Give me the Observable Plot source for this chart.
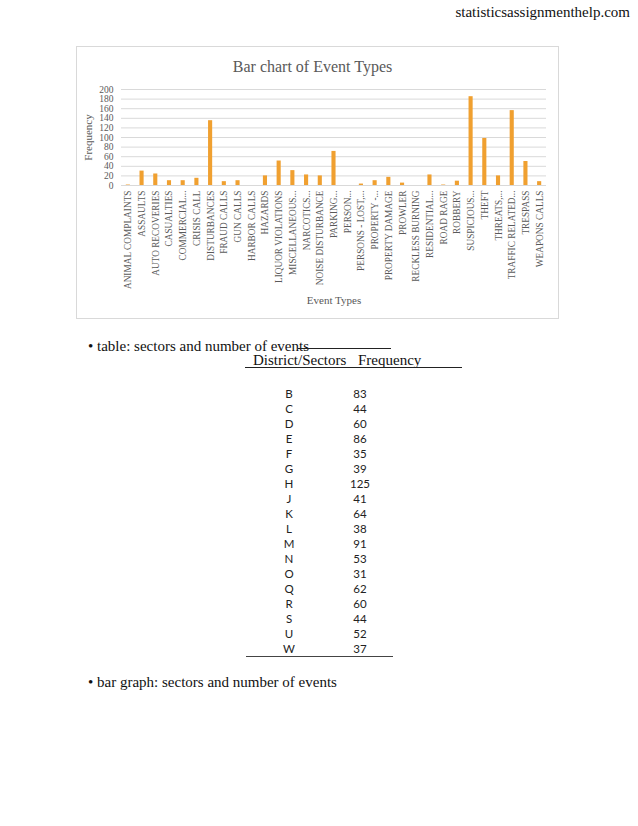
<!DOCTYPE html>
<html>
<head>
<meta charset="utf-8">
<script src="https://cdn.jsdelivr.net/npm/d3@7"></script>
<script src="https://cdn.jsdelivr.net/npm/@observablehq/plot@0.6"></script>
<style>
  html, body { margin: 0; padding: 0; background: #fff; }
  body { width: 638px; height: 826px; position: relative; overflow: hidden; font-family: "Liberation Serif", serif; color: #111; }
  .abs { position: absolute; white-space: nowrap; }
  #site { right: 8px; top: 4px; font-size: 15px; }
  #box { left: 76px; top: 46px; width: 481px; height: 271px; border: 1px solid #d9d9d9; }
  #ctitle { left: -5px; width: 100%; top: 11px; text-align: center; font-size: 16px; color: #595959; font-family: "Liberation Serif", "DejaVu Serif", serif; }
  #chart { position: absolute; left: 0; top: 0; }
  .bullet { font-size: 15px; left: 88px; }
  .row { font-family: Lato, "Liberation Sans", sans-serif; font-size: 11.5px; color: #222; }
</style>
</head>
<body>
<script>
const eventTypes = ["ANIMAL COMPLAINTS","ASSAULTS","AUTO RECOVERIES","CASUALTIES","COMMERCIAL...","CRISIS CALL","DISTURBANCES","FRAUD CALLS","GUN CALLS","HARBOR CALLS","HAZARDS","LIQUOR VIOLATIONS","MISCELLANEOUS...","NARCOTICS...","NOISE DISTURBANCE","PARKING...","PERSON...","PERSONS - LOST,...","PROPERTY -...","PROPERTY DAMAGE","PROWLER","RECKLESS BURNING","RESIDENTIAL...","ROAD RAGE","ROBBERY","SUSPICIOUS...","THEFT","THREATS,...","TRAFFIC RELATED...","TRESPASS","WEAPONS CALLS"];
const eventCounts = [1,30,24,10,10,15,135,8,10,0,20,51,31,22,20,71,0,3,10,17,5,0,22,1,9,185,98,20,156,50,8];
const yTicks = [0,20,40,60,80,100,120,140,160,180,200];
const sectors = ["B","C","D","E","F","G","H","J","K","L","M","N","O","Q","R","S","U","W"];
const sectorFreq = [83,44,60,86,35,39,125,41,64,38,91,53,31,62,60,44,52,37];

const data = eventTypes.map((t, i) => ({type: t, n: eventCounts[i]}));

function add(html) { document.body.insertAdjacentHTML("beforeend", html); }

add(`<div class="abs" id="site">statisticsassignmenthelp.com</div>`);
add(`<div class="abs" id="box"><div class="abs" id="ctitle">Bar chart of Event Types</div></div>`);

const chart = Plot.plot({
  width: 481,
  height: 271,
  marginTop: 42,
  marginBottom: 133,
  marginLeft: 44,
  marginRight: 12,
  style: {fontFamily: "'Liberation Serif', serif", fontSize: "9px", color: "#595959", background: "transparent", overflow: "visible"},
  x: {domain: eventTypes, paddingInner: 0.7, paddingOuter: 0.35, align: 0.5, round: false},
  y: {domain: [0, 200]},
  marks: [
    Plot.gridY(yTicks, {stroke: "#d9d9d9", strokeOpacity: 1}),
    Plot.barY(data, {x: "type", y: "n", fill: "#f0a030"}),
    Plot.axisY(yTicks, {tickSize: 0, tickPadding: 8, label: null, fontSize: 9.5}),
    Plot.text(["Frequency"], {frameAnchor: "left", textAnchor: "middle", dx: -33, rotate: -90, fontSize: 11, fill: "#595959"}),
    Plot.axisX({tickSize: 0, tickPadding: 5, tickRotate: -90, label: null, fontSize: 9.3}),
    Plot.text(["Event Types"], {frameAnchor: "bottom", dy: 118, fontSize: 11, fill: "#595959"})
  ]
});
chart.id = "chart";
document.getElementById("box").appendChild(chart);

add(`<div class="abs bullet" style="top:338px;">• table: sectors and number of events</div>`);
add(`<div class="abs" style="left:298px; top:348px; width:93px; border-top:1px solid #222;"></div>`);
add(`<div class="abs" style="left:253px; top:352px; font-size:15px;">District/Sectors</div>`);
add(`<div class="abs" style="left:358px; top:352px; font-size:15px;">Frequency</div>`);
add(`<div class="abs" style="left:245px; top:367px; width:217px; border-top:1px solid #222;"></div>`);

sectors.forEach((s, i) => {
  const y = 394 + i * 15 - 7;
  add(`<div class="abs row" style="left:269px; width:40px; text-align:center; top:${y}px;">${s}</div>`);
  add(`<div class="abs row" style="left:340px; width:40px; text-align:center; top:${y}px;">${sectorFreq[i]}</div>`);
});
add(`<div class="abs" style="left:246px; top:656px; width:147px; border-top:1px solid #444;"></div>`);
add(`<div class="abs bullet" style="top:674px;">• bar graph: sectors and number of events</div>`);
</script>
</body>
</html>
